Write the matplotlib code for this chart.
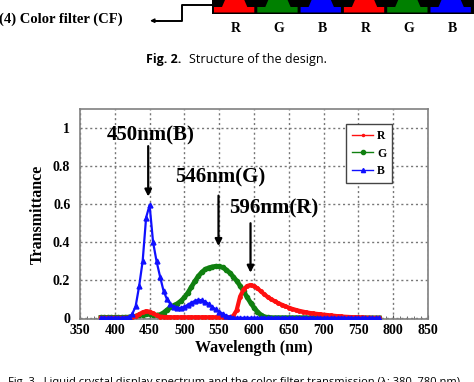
import numpy as np
import matplotlib
matplotlib.use("Agg")
import matplotlib.pyplot as plt
from matplotlib.patches import Rectangle, Polygon

# wavelength grid (nm) and transmittance
wavelength = list(range(380, 785, 5))

red = [0.003, 0.003, 0.003, 0.003, 0.003, 0.003, 0.003, 0.003, 0.004, 0.006,
       0.012, 0.022, 0.032, 0.038, 0.036, 0.026, 0.016, 0.010, 0.008, 0.007,
       0.006, 0.006, 0.006, 0.006, 0.006, 0.006, 0.006, 0.006, 0.006, 0.006,
       0.006, 0.006, 0.006, 0.006, 0.006, 0.006, 0.006, 0.006, 0.012, 0.042,
       0.115, 0.152, 0.170, 0.176, 0.170, 0.158, 0.142, 0.126, 0.112, 0.100,
       0.090, 0.080, 0.072, 0.064, 0.057, 0.050, 0.045, 0.040, 0.036, 0.032,
       0.029, 0.026, 0.024, 0.022, 0.020, 0.018, 0.016, 0.014, 0.012, 0.011,
       0.009, 0.008, 0.007, 0.006, 0.005, 0.005, 0.004, 0.004, 0.003, 0.003,
       0.003]

green = [0.005, 0.005, 0.005, 0.005, 0.005, 0.005, 0.005, 0.006, 0.007, 0.009,
         0.012, 0.016, 0.020, 0.023, 0.022, 0.018, 0.017, 0.020, 0.030, 0.045,
         0.058, 0.068, 0.078, 0.092, 0.110, 0.135, 0.165, 0.195, 0.222, 0.243,
         0.258, 0.266, 0.271, 0.274, 0.273, 0.268, 0.256, 0.240, 0.220, 0.198,
         0.172, 0.143, 0.112, 0.083, 0.057, 0.035, 0.018, 0.009, 0.005, 0.004,
         0.004, 0.004, 0.004, 0.004, 0.004, 0.004, 0.004, 0.004, 0.004, 0.004,
         0.003, 0.003, 0.003, 0.003, 0.003, 0.003, 0.003, 0.003, 0.003, 0.003,
         0.003, 0.003, 0.003, 0.003, 0.003, 0.003, 0.003, 0.003, 0.003, 0.003,
         0.003]

blue = [0.004, 0.004, 0.004, 0.004, 0.004, 0.004, 0.004, 0.004, 0.008, 0.022,
        0.065, 0.170, 0.300, 0.530, 0.595, 0.400, 0.300, 0.220, 0.145, 0.100,
        0.075, 0.062, 0.055, 0.055, 0.062, 0.072, 0.083, 0.092, 0.097, 0.096,
        0.088, 0.075, 0.060, 0.047, 0.036, 0.025, 0.015, 0.008, 0.004, 0.003,
        0.003, 0.003, 0.003, 0.003, 0.003, 0.003, 0.003, 0.003, 0.003, 0.003,
        0.003, 0.003, 0.003, 0.003, 0.003, 0.003, 0.003, 0.003, 0.003, 0.003,
        0.003, 0.003, 0.003, 0.003, 0.003, 0.003, 0.003, 0.003, 0.003, 0.003,
        0.003, 0.003, 0.003, 0.003, 0.003, 0.003, 0.003, 0.003, 0.003, 0.003,
        0.003]

xticks = [350, 400, 450, 500, 550, 600, 650, 700, 750, 800, 850]
yticks = [0, 0.2, 0.4, 0.6, 0.8, 1]
ytick_labels = ['0', '0.2', '0.4', '0.6', '0.8', '1']

# peak annotations: label, label position, arrow start, arrow end
peaks = [('450nm(B)', (451, 0.96), (448, 0.905), (448, 0.64)),
         ('546nm(G)', (552, 0.74), (549, 0.645), (549, 0.38)),
         ('596nm(R)', (629, 0.575), (595, 0.50), (595, 0.24))]

serif = 'Liberation Serif'

W, H = 474, 382
fig = plt.figure(figsize=(W / 100, H / 100), dpi=100)
ax = fig.add_axes([80 / W, 1 - 319 / H, 348 / W, 210 / H])

ax.plot(wavelength, red, color='#ff1010', marker='.', ms=5, lw=3, label='R', zorder=3)
ax.plot(wavelength, green, color='#108010', marker='o', ms=3, lw=3.4, label='G', zorder=2)
ax.plot(wavelength, blue, color='#1010ff', marker='^', ms=3.5, lw=1.6, label='B', zorder=4)

ax.set_xlim(350, 850)
ax.set_ylim(-0.003, 1.1)
ax.set_xticks(xticks)
ax.set_yticks(yticks)
ax.set_yticklabels(ytick_labels)
ax.set_xticks(range(350, 851, 10), minor=True)
ax.tick_params(which='both', direction='in', length=2, color='#555555')
ax.tick_params(axis='y', which='major', length=0)
ax.tick_params(axis='x', which='major', length=3)
for lab in ax.get_xticklabels() + ax.get_yticklabels():
    lab.set_fontfamily(serif)
    lab.set_fontweight('bold')
    lab.set_fontsize(10)
ax.tick_params(axis='x', pad=3.5)
ax.tick_params(axis='y', pad=7)
ax.grid(True, which='major', linestyle=(0, (1.5, 2)), color='#777777', lw=1)
for sp in ax.spines.values():
    sp.set_color('#808080')
    sp.set_linewidth(1.2)

ax.set_xlabel('Wavelength (nm)', fontfamily=serif, fontweight='bold', fontsize=11.5, labelpad=2)
ax.set_ylabel('Transmittance', fontfamily=serif, fontweight='bold', fontsize=11.5, labelpad=5)

for text, pos, start, end in peaks:
    ax.text(pos[0], pos[1], text, fontfamily=serif, fontweight='bold', fontsize=15,
            ha='center', va='center')
    ax.annotate('', xy=end, xytext=start,
                arrowprops=dict(arrowstyle='-|>', color='black', lw=1.6,
                                mutation_scale=10, shrinkA=0, shrinkB=0))

leg = ax.legend(loc='upper left', bbox_to_anchor=(0.748, 0.955), fancybox=False,
                framealpha=1, edgecolor='#444444', handlelength=1.8,
                borderpad=0.5, labelspacing=0.45, handletextpad=0.3,
                prop={'family': serif, 'weight': 'bold', 'size': 8.5})
leg.get_frame().set_linewidth(1)
for line in leg.get_lines():
    line.set_linewidth(1)
    line.set_markersize(3)

# remains of the previous figure and captions around the chart
ov = fig.add_axes([0, 0, 1, 1])
ov.set_xlim(0, W)
ov.set_ylim(H, 0)
ov.axis('off')
ov.patch.set_alpha(0)

ov.add_patch(Rectangle((212, -2), 264, 16, color='black', lw=0))
strip_colors = ['#ff0000', '#008000', '#0000ff', '#ff0000', '#008000', '#0000ff']
bw = 43.3
for i, c in enumerate(strip_colors):
    x0 = 213 + i * bw
    ov.add_patch(Polygon([(x0 + 1, 12.5), (x0 + bw - 2, 12.5), (x0 + bw - 2, 7),
                          (x0 + bw - 9, 7), (x0 + bw - 12, 0), (x0 + 12, 0),
                          (x0 + 9, 7), (x0 + 1, 7)], closed=True, color=c, lw=0))
    ov.text(x0 + bw / 2 + 1, 28.5, 'RGB'[i % 3], fontfamily=serif, fontweight='bold',
            fontsize=10, ha='center', va='center')

ov.plot([153, 182, 182, 213], [20.7, 20.7, 5, 5], color='black', lw=1.4)
ov.annotate('', xy=(150, 20.7), xytext=(160, 20.7),
            arrowprops=dict(arrowstyle='-|>', color='black', lw=1, mutation_scale=6,
                            shrinkA=0, shrinkB=0))
ov.text(-1, 19.5, '(4) Color filter (CF)', fontfamily=serif, fontweight='bold',
        fontsize=10.5, ha='left', va='center')

ov.text(146, 59.5, 'Fig. 2.', fontfamily='Open Sans', fontweight='bold', fontsize=9,
        ha='left', va='center')
ov.text(189, 59.5, 'Structure of the design.', fontfamily='Open Sans', fontsize=9,
        ha='left', va='center')

ov.text(8, 377.5, 'Fig. 3.  Liquid crystal display spectrum and the color filter transmission (λ: 380–780 nm)',
        fontfamily='Open Sans', fontsize=8, ha='left', va='top')

fig.savefig('out.png', dpi=100)
